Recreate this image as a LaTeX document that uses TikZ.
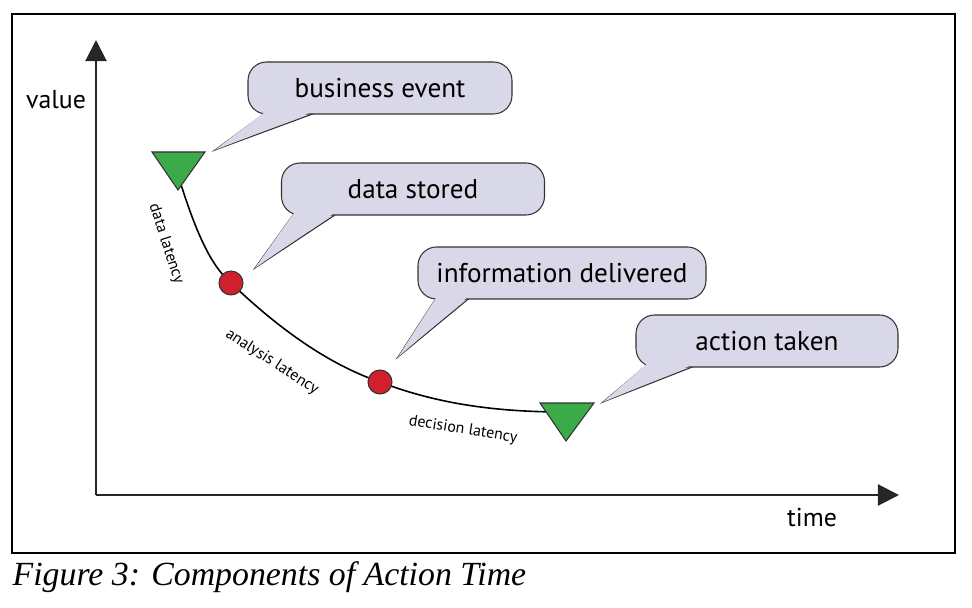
\documentclass[tikz,border=0pt]{standalone}
\usepackage{fontspec}
\setmainfont{Liberation Serif}
\newfontfamily\lab{PT Sans}
\usetikzlibrary{arrows.meta}
\definecolor{boxfill}{HTML}{D9D8E8}
\definecolor{tri}{HTML}{3BAA48}
\definecolor{dot}{HTML}{D0202E}
\begin{document}
\begin{tikzpicture}[x=0.0265cm,y=-0.0265cm,
  callout/.style={draw=black!80,line width=0.8pt,fill=boxfill,rounded corners=14pt,minimum height=52*0.0265cm,font=\lab\fontsize{20.5}{20.5}\selectfont,inner sep=0pt},
  tail/.style={fill=boxfill,draw=black!80,line width=0.8pt},
  small/.style={font=\lab\fontsize{12}{12}\selectfont},
  axis/.style={line width=1.6pt,black!85,-{Triangle[length=16pt,width=16pt]}}]
\useasboundingbox (0,0) rectangle (972,608);
\draw[line width=1pt] (12,14) rectangle (955,553);
\node[anchor=west,font=\itshape\fontsize{25.5}{25.5}\selectfont] (cap) at (8,577) {Figure 3: Components of Action Time};
\coordinate (o) at (96,495);
\coordinate (ytop) at (96,40);
\coordinate (xend) at (899,495);
\draw[axis] (o) -- (ytop);
\draw[axis] (o) -- (xend);
\node[font=\lab\fontsize{19.5}{19.5}\selectfont] (value) at (56,100) {value};
\node[font=\lab\fontsize{19.5}{19.5}\selectfont] (time) at (812,518) {time};
% curve
\draw[line width=1.2pt] (178,175) .. controls (195,230) and (210,265) .. (231,283)
  .. controls (280,330) and (330,365) .. (380,382)
  .. controls (440,405) and (500,412) .. (565,412);
% latency labels
\node[small,rotate=-72] (dl) at (166,244) {data latency};
\node[small,rotate=-33] (al) at (272,362) {analysis latency};
\node[small,rotate=-9] (decl) at (463,430) {decision latency};
% markers
\filldraw[fill=tri,draw=black!80,line width=0.8pt] (152,152) -- (205,152) -- (178,190) -- cycle;
\filldraw[fill=tri,draw=black!80,line width=0.8pt] (540,403) -- (594,403) -- (566,441) -- cycle;
\filldraw[fill=dot,draw=black!80,line width=0.8pt] (231,283) circle (12);
\filldraw[fill=dot,draw=black!80,line width=0.8pt] (380,382) circle (12);
% callouts
\coordinate (t1) at (215,150);
\coordinate (t2) at (255,268);
\coordinate (t3) at (398,357);
\coordinate (t4) at (603,402);
\draw[tail] (272,108) -- (t1) -- (318,112);
\node[callout,minimum width=264*0.0265cm] (b1) at (380,88) {business event};
\fill[boxfill] (273,106) -- (t1) -- (317,110) -- cycle;
\draw[tail] (298,208) -- (t2) -- (338,213);
\node[callout,minimum width=263*0.0265cm] (b2) at (413,189) {data stored};
\fill[boxfill] (299,206) -- (t2) -- (337,211) -- cycle;
\draw[tail] (440,292) -- (t3) -- (472,296);
\node[callout,minimum width=288*0.0265cm] (b3) at (562,273) {information delivered};
\fill[boxfill] (441,290) -- (t3) -- (471,294) -- cycle;
\draw[tail] (655,358) -- (t4) -- (700,364);
\node[callout,minimum width=262*0.0265cm] (b4) at (767,341) {action taken};
\fill[boxfill] (656,356) -- (t4) -- (699,362) -- cycle;
\end{tikzpicture}
\end{document}
